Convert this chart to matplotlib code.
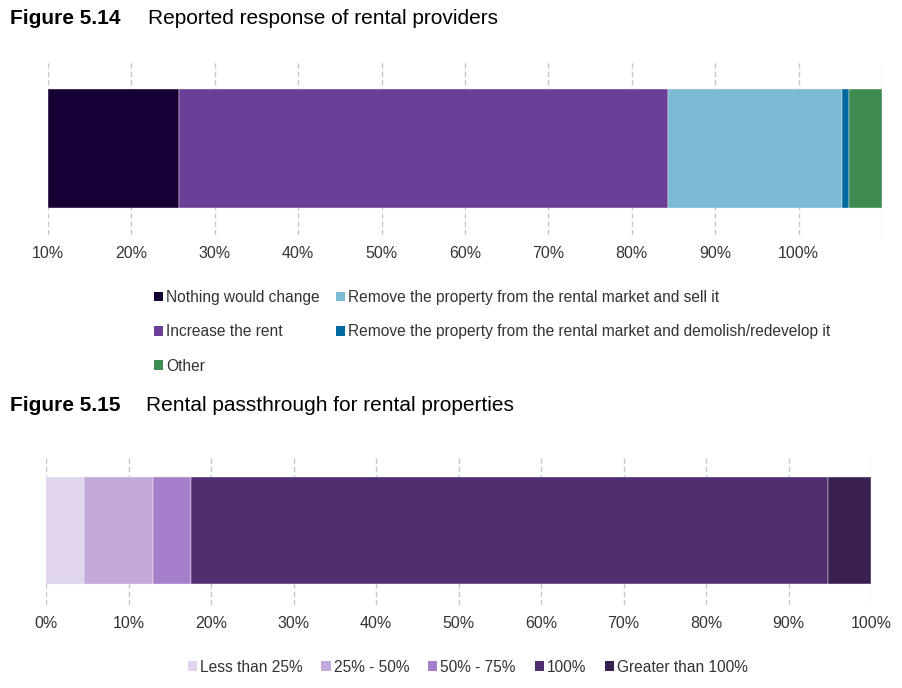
import matplotlib.pyplot as plt
from matplotlib.patches import Patch

plt.rcParams['font.family'] = ['Liberation Sans Narrow', 'Liberation Sans', 'DejaVu Sans']

# Figure 5.14 data (share of responses, %)
resp_labels = ["Nothing would change", "Increase the rent",
               "Remove the property from the rental market and sell it",
               "Remove the property from the rental market and demolish/redevelop it",
               "Other"]
resp_values = [15.7, 58.6, 20.9, 0.8, 4.0]
resp_colors = ["#160033", "#6b3f98", "#7bbbd6", "#006aa0", "#3e8b51"]
resp_ticks = [0, 10, 20, 30, 40, 50, 60, 70, 80, 90, 100]
resp_ticklabels = ["10%", "20%", "30%", "40%", "50%", "60%", "70%", "80%", "90%", "100%", ""]

# Figure 5.15 data (share of properties, %)
pass_labels = ["Less than 25%", "25% - 50%", "50% - 75%", "100%", "Greater than 100%"]
pass_values = [4.6, 8.4, 4.6, 77.2, 5.2]
pass_colors = ["#e1d5ee", "#c3aada", "#a57fca", "#4f2f70", "#3a2050"]
pass_ticks = [0, 10, 20, 30, 40, 50, 60, 70, 80, 90, 100]
pass_ticklabels = ["0%", "10%", "20%", "30%", "40%", "50%", "60%", "70%", "80%", "90%", "100%"]

W, H = 902, 688
fig = plt.figure(figsize=(W / 100, H / 100), dpi=100)


def px_axes(x0, x1, y0, y1):
    # pixel box (top-left origin) -> figure axes
    return fig.add_axes([x0 / W, 1 - y1 / H, (x1 - x0) / W, (y1 - y0) / H])


def stacked(ax, values, colors, ticks, ticklabels, bar_frac):
    left = 0
    for v, c in zip(values, colors):
        ax.barh(0, v, left=left, height=1, color=c, edgecolor="#f4f4f4",
                linewidth=0.3, zorder=3)
        left += v
    ax.set_xlim(0, 100)
    lim = 0.5 / bar_frac
    ax.set_ylim(-lim, lim)
    ax.set_yticks([])
    ax.set_xticks(ticks)
    ax.set_xticklabels(ticklabels, fontsize=11.5, color="#333333")
    ax.tick_params(axis="x", length=0, pad=8)
    ax.grid(axis="x", color="#c8c8c8", linestyle=(0, (4, 2)), linewidth=1, zorder=0)
    for s in ax.spines.values():
        s.set_visible(False)


# titles
fig.text(10 / W, 1 - 18 / H, "Figure 5.14", fontsize=15, fontweight="bold", va="center")
fig.text(148 / W, 1 - 18 / H, "Reported response of rental providers", fontsize=15, va="center")
fig.text(10 / W, 1 - 405 / H, "Figure 5.15", fontsize=15, fontweight="bold", va="center")
fig.text(146 / W, 1 - 405 / H, "Rental passthrough for rental properties", fontsize=15, va="center")

ax1 = px_axes(48, 882, 62, 235)
stacked(ax1, resp_values, resp_colors, resp_ticks, resp_ticklabels, 119 / 173)

ax2 = px_axes(46, 871, 455, 605)
stacked(ax2, pass_values, pass_colors, pass_ticks, pass_ticklabels, 107 / 150)

# legend 1: two columns, filled column-first
order = [0, 1, 4, 2, 3]
h1 = [Patch(facecolor=resp_colors[i], label=resp_labels[i]) for i in order]
fig.legend(handles=h1, loc="upper left", bbox_to_anchor=(140 / W, 1 - 276 / H),
           ncol=2, frameon=False, fontsize=11.2, handlelength=0.6, handleheight=0.6,
           handletextpad=0.2, columnspacing=1.0, labelspacing=1.25, labelcolor="#333333")

h2 = [Patch(facecolor=c, label=l) for c, l in zip(pass_colors, pass_labels)]
fig.legend(handles=h2, loc="center", bbox_to_anchor=(468 / W, 1 - 667 / H),
           ncol=5, frameon=False, fontsize=11.2, handlelength=0.6, handleheight=0.6,
           handletextpad=0.2, columnspacing=1.2, labelcolor="#333333")

fig.savefig("out.png", dpi=100)
